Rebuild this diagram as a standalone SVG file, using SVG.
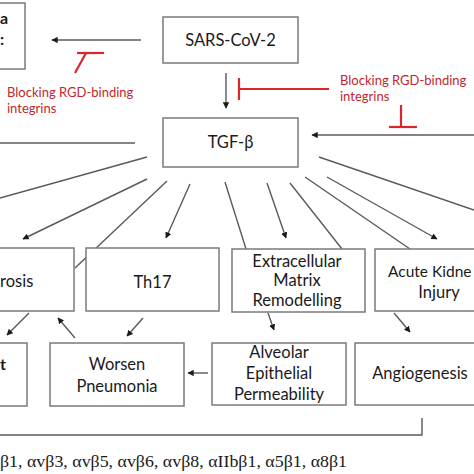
<svg xmlns="http://www.w3.org/2000/svg" width="474" height="474" viewBox="0 0 474 474">
<style>
.box{fill:#fff;stroke:#7a7a7a;stroke-width:1.5}
.t{font-family:Lato,"Liberation Sans",sans-serif;font-size:16.5px;fill:#1a1a1a;text-anchor:middle}
.s{font-family:Lato,"Liberation Sans",sans-serif;font-size:16.5px;fill:#1a1a1a}
.b{font-family:Lato,"Liberation Sans",sans-serif;font-size:16px;font-weight:bold;fill:#1a1a1a}
.red{font-family:Lato,"Liberation Sans",sans-serif;font-size:13px;fill:#c1272d}
.ln{stroke:#5a5a5a;stroke-width:1.4;fill:none}
.ar{stroke:#5a5a5a;stroke-width:1.4;fill:none;marker-end:url(#ah)}
.inh{stroke:#d9262b;stroke-width:2.2;fill:none}
.bot{font-family:"Liberation Serif",serif;font-size:17.5px;fill:#1a1a1a}
</style>
<defs>
<marker id="ah" viewBox="0 0 10 10" refX="9" refY="5" markerWidth="4.5" markerHeight="4.5" orient="auto" markerUnits="strokeWidth">
<path d="M0,0 L10,5 L0,10 z" fill="#1a1a1a"/>
</marker>
</defs>
<rect width="474" height="474" fill="#fff"/>
<g id="connectors">
<line class="ar" x1="141" y1="40" x2="52" y2="40"/>
<line class="ar" x1="226" y1="73" x2="226" y2="108"/>
<line class="ar" x1="474" y1="135" x2="312" y2="135"/>
<line class="ln" x1="0" y1="143" x2="135" y2="143"/>
<line class="ln" x1="147" y1="157" x2="0" y2="198"/>
<line class="ar" x1="147" y1="179" x2="23" y2="239"/>
<line class="ln" x1="167" y1="181" x2="75" y2="268"/>
<line class="ar" x1="190" y1="184" x2="166" y2="238"/>
<line class="ln" x1="225" y1="182" x2="246" y2="249"/>
<line class="ar" x1="267" y1="183" x2="286" y2="238"/>
<line class="ln" x1="290" y1="183" x2="342" y2="249"/>
<line class="ln" x1="305" y1="177" x2="410" y2="249"/>
<line class="ar" x1="327" y1="177" x2="437" y2="239"/>
<line class="ln" x1="319" y1="157" x2="474" y2="210"/>
<line class="ar" x1="29" y1="313" x2="7" y2="335"/>
<line class="ar" x1="75" y1="338" x2="58" y2="318"/>
<line class="ar" x1="143" y1="318" x2="127" y2="336"/>
<line class="ar" x1="268" y1="313" x2="274" y2="330"/>
<line class="ar" x1="394" y1="313" x2="410" y2="332"/>
<line class="ar" x1="208" y1="373" x2="188" y2="373"/>
<polyline class="ln" points="0,435 422,435 422,418"/>
</g>
<g id="inhibitors">
<line class="inh" x1="77" y1="53" x2="104" y2="53"/>
<line class="inh" x1="86" y1="53" x2="75" y2="73"/>
<line class="inh" x1="329" y1="89" x2="239" y2="89"/>
<line class="inh" x1="239" y1="78" x2="239" y2="100"/>
<line class="inh" x1="401" y1="105" x2="401" y2="127"/>
<line class="inh" x1="389" y1="127" x2="417" y2="127"/>
<text class="red" x="7" y="97">Blocking RGD-binding</text>
<text class="red" x="7" y="113">integrins</text>
<text class="red" x="340" y="85">Blocking RGD-binding</text>
<text class="red" x="340" y="101">integrins</text>
</g>
<g id="topleft">
<rect class="box" x="-20" y="3" width="45" height="66"/>
<text class="b" x="0" y="24">a</text>
<text class="b" x="0" y="45">:</text>
</g>
<g id="sars">
<rect class="box" x="163" y="17" width="135" height="46"/>
<text class="t" x="230.5" y="46">SARS-CoV-2</text>
</g>
<g id="tgf">
<rect class="box" x="163" y="118" width="135" height="49"/>
<text class="t" x="230.5" y="148">TGF-β</text>
</g>
<g id="fibrosis">
<rect class="box" x="-60" y="248" width="134" height="63"/>
<text class="s" x="0" y="287">rosis</text>
</g>
<g id="th17">
<rect class="box" x="86" y="248" width="133" height="63"/>
<text class="t" x="152.5" y="288">Th17</text>
</g>
<g id="ecm">
<rect class="box" x="232" y="249" width="133" height="63"/>
<text class="t" x="297" y="267">Extracellular</text>
<text class="t" x="297" y="286">Matrix</text>
<text class="t" x="297" y="306">Remodelling</text>
</g>
<g id="aki">
<rect class="box" x="375" y="249" width="130" height="62"/>
<text class="s" x="388" y="277" style="font-size:15.5px">Acute Kidne</text>
<text class="t" x="439" y="298">Injury</text>
</g>
<g id="bottomleft">
<rect class="box" x="-60" y="343" width="87" height="63"/>
<text class="b" x="0" y="370">t</text>
</g>
<g id="worsen">
<rect class="box" x="50" y="343" width="134" height="63"/>
<text class="t" x="117" y="370">Worsen</text>
<text class="t" x="117" y="392">Pneumonia</text>
</g>
<g id="alveolar">
<rect class="box" x="212" y="343" width="134" height="62"/>
<text class="t" x="279" y="358">Alveolar</text>
<text class="t" x="279" y="379">Epithelial</text>
<text class="t" x="279" y="400">Permeability</text>
</g>
<g id="angio">
<rect class="box" x="355" y="343" width="130" height="62"/>
<text class="t" x="420" y="379">Angiogenesis</text>
</g>
<text class="bot" x="0" y="467" textLength="347" lengthAdjust="spacingAndGlyphs">β1, αvβ3, αvβ5, αvβ6, αvβ8, αIIbβ1, α5β1, α8β1</text>
</svg>
